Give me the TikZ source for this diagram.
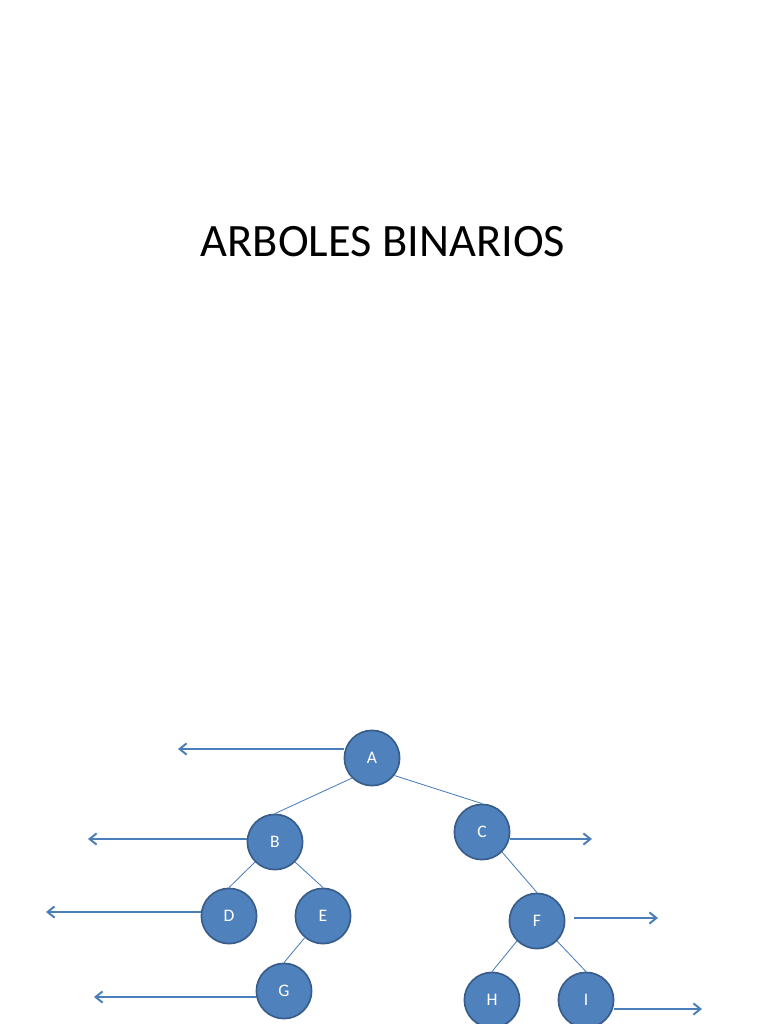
\documentclass[tikz,border=0pt]{standalone}
\usepackage{fontspec}
\setmainfont{Carlito}
\usetikzlibrary{arrows.meta}
\definecolor{nodeblue}{HTML}{4F81BD}
\definecolor{rimblue}{HTML}{385D8A}
\definecolor{lineblue}{HTML}{4A7EBB}

\begin{document}
\begin{tikzpicture}[x=0.025cm,y=-0.025cm,
    vertex/.style={circle,fill=nodeblue,draw=rimblue,line width=1.2pt,minimum size=1.38cm,inner sep=0pt,text=white,font=\fontsize{12.5}{14}\selectfont},
    branch/.style={lineblue,line width=0.6pt},
    pointer/.style={lineblue,line width=1.4pt,-{Straight Barb[length=5pt,width=8pt]}}]
    \useasboundingbox (0,0) rectangle (768,1024);
    \node[font=\fontsize{33}{40}\selectfont] (title) at (383,242) {ARBOLES BINARIOS};
    \node[vertex] (A) at (372,758) {A};
    \node[vertex] (B) at (275,842) {B};
    \node[vertex] (C) at (482,832) {C};
    \node[vertex] (D) at (229,916) {D};
    \node[vertex] (E) at (323,916) {E};
    \node[vertex] (F) at (537,921) {F};
    \node[vertex] (G) at (284,991) {G};
    \node[vertex] (H) at (492,1000) {H};
    \node[vertex] (I) at (586,1000) {I};
    \draw[branch] (A.225) -- (B.north);
    \draw[branch] (A.-38) -- (C.north);
    \draw[branch] (B.225) -- (D.north);
    \draw[branch] (B.-45) -- (E.north);
    \draw[branch] (E.230) -- (G.north);
    \draw[branch] (C.-45) -- (F.north);
    \draw[branch] (F.225) -- (H.north);
    \draw[branch] (F.-45) -- (I.north);
    \coordinate (endA) at (178,749);
    \coordinate (endB) at (88,839);
    \coordinate (endD) at (46,912);
    \coordinate (endG) at (94,997);
    \coordinate (endC) at (592,839);
    \coordinate (endF) at (658,918);
    \coordinate (endI) at (702,1009);
    \draw[pointer] (A.west |- endA) -- (endA);
    \draw[pointer] (B.west |- endB) -- (endB);
    \draw[pointer] (D.west |- endD) -- (endD);
    \draw[pointer] (G.west |- endG) -- (endG);
    \draw[pointer] (C.east |- endC) -- (endC);
    \draw[pointer] ([xshift=6]F.east |- endF) -- (endF);
    \draw[pointer] (I.east |- endI) -- (endI);
\end{tikzpicture}
\end{document}
